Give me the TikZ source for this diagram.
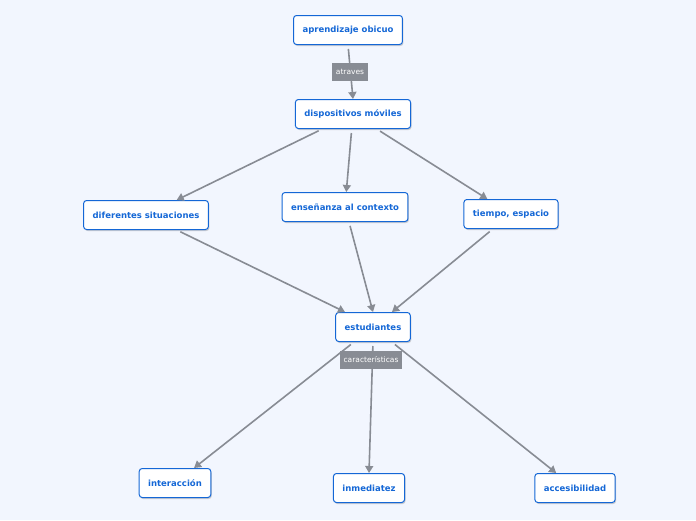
\documentclass[tikz,border=0pt]{standalone}
\usepackage{fontspec}
\setmainfont{DejaVu Sans}
\usetikzlibrary{arrows.meta,shadows}
\definecolor{bgblue}{HTML}{F2F6FE}
\definecolor{txtblue}{HTML}{1467D6}
\definecolor{edgegray}{HTML}{888C94}
\tikzset{
  topic/.style={draw=txtblue, line width=1pt, fill=white, rounded corners=3pt,
    text=txtblue, font=\fontsize{8.5}{10}\selectfont\bfseries,
    minimum height=29pt, inner xsep=9pt, drop shadow={shadow xshift=1pt, shadow yshift=-1.5pt, opacity=0.35}},
  tag/.style={fill=edgegray, text=white, font=\fontsize{7.5}{9}\selectfont,
    minimum height=18pt, inner xsep=4pt, inner ysep=0pt},
  link/.style={draw=edgegray, line width=1.6pt, -{Triangle[length=7pt,width=8pt]}, shorten <=4pt}
}
\begin{document}
\begin{tikzpicture}[x=1pt,y=-1pt]
\fill[bgblue] (0,0) rectangle (696,520);
\useasboundingbox (0,0) rectangle (696,520);
% main topics
\node[topic] (apr) at (348,30) {aprendizaje obicuo};
\node[topic] (dis) at (353,114) {dispositivos móviles};
\node[topic] (dif) at (146,215) {diferentes situaciones};
\node[topic] (ens) at (345,207) {enseñanza al contexto};
\node[topic] (tie) at (511,214) {tiempo, espacio};
\node[topic] (est) at (373,327) {estudiantes};
\node[topic] (int) at (175,483) {interacción};
\node[topic] (inm) at (369,488) {inmediatez};
\node[topic] (acc) at (575,488) {accesibilidad};
% connectors
\draw[link] (apr.south) -- (dis.north);
\draw[link] (dis) -- (dif);
\draw[link] (dis) -- (ens);
\draw[link] (dis) -- (tie);
\draw[link] (dif) -- ([xshift=-28pt]est.north);
\draw[link] (ens) -- (est.north);
\draw[link] (tie) -- ([xshift=19pt]est.north);
\draw[link] (est) -- (int);
\draw[link] (est.south) -- (inm.north);
\draw[link] (est) -- (acc);
% labels
\node[tag] (atr) at (350,72) {atraves};
\node[tag] (car) at (371,360) {características};
\end{tikzpicture}
\end{document}
